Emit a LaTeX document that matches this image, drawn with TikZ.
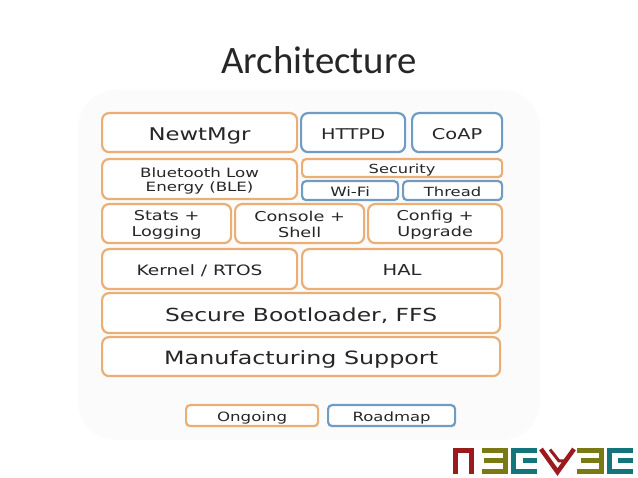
\documentclass[tikz,border=0pt]{standalone}
\usepackage{fontspec}
\setmainfont{DejaVu Sans}
\newfontfamily\wide[FakeStretch=1.3]{DejaVu Sans}
\newfontfamily\titlefont{Carlito}
\definecolor{orangeln}{HTML}{EBAE74}
\definecolor{blueln}{HTML}{6F9CC4}
\definecolor{txt}{HTML}{262626}
\definecolor{lred}{HTML}{9A1A1E}
\definecolor{lolive}{HTML}{7A7A14}
\definecolor{lteal}{HTML}{14747C}
\tikzset{
  box/.style={draw=orangeln,line width=2.2pt,rounded corners=7pt,fill=white,inner sep=0pt,anchor=north west,align=center,text=txt},
  bluebox/.style={box,draw=blueln},
  smallbox/.style={rounded corners=4pt},
  single/.style={text height=#1pt,text depth=0pt},
  logo/.style={line width=5pt,line cap=butt,line join=miter}
}
\newcommand{\wf}[1]{\wide\fontsize{#1}{#1}\selectfont}
\begin{document}
\begin{tikzpicture}[x=1pt,y=-1pt]
\useasboundingbox (0,0) rectangle (638,478);
\fill[white] (0,0) rectangle (638,478);
\fill[fill=black!1.5,rounded corners=38pt] (78,90) rectangle (540,440);
\node[font=\titlefont\fontsize{38.8}{42}\selectfont,text=txt] (title) at (319,60) {Architecture};
\node[box,single=15.5,minimum width=195pt,minimum height=39pt,font=\wf{17.5}] (newt) at (101,112) {NewtMgr};
\node[bluebox,single=13,minimum width=104pt,minimum height=39pt,font=\wf{14.8}] (httpd) at (300,112) {HTTPD};
\node[bluebox,single=13,minimum width=90pt,minimum height=39pt,font=\wf{14.9}] (coap) at (411,112) {CoAP};
\node[box,minimum width=195pt,minimum height=40pt,font=\wide\fontsize{12.8}{14.5}\selectfont] (ble) at (101,158) {\rule{0pt}{13.5pt}Bluetooth Low\\Energy (BLE)};
\node[box,smallbox,single=11,minimum width=200pt,minimum height=18pt,font=\wf{12.5}] (sec) at (301,158) {Security};
\node[bluebox,smallbox,single=11,minimum width=96pt,minimum height=19pt,font=\wf{12.8}] (wifi) at (301,180) {Wi-Fi};
\node[bluebox,smallbox,single=11,minimum width=99pt,minimum height=19pt,font=\wf{12.6}] (thread) at (402,180) {Thread};
\node[box,minimum width=129pt,minimum height=39pt,font=\wide\fontsize{13.6}{15.8}\selectfont] (stats) at (101,203) {\rule{0pt}{12.5pt}Stats +\\Logging};
\node[box,minimum width=129pt,minimum height=39pt,font=\wide\fontsize{13.6}{15.8}\selectfont] (console) at (234,203) {\rule{0pt}{12.5pt}Console +\\Shell};
\node[box,minimum width=134pt,minimum height=39pt,font=\wide\fontsize{13.6}{15.8}\selectfont] (config) at (367,203) {\rule{0pt}{12.5pt}Config +\\Upgrade};
\node[box,single=12.5,minimum width=195pt,minimum height=40pt,font=\wf{14.3}] (kernel) at (101,248) {Kernel / RTOS};
\node[box,single=13,minimum width=200pt,minimum height=40pt,font=\wf{15}] (hal) at (301,248) {HAL};
\node[box,single=16,minimum width=398pt,minimum height=40pt,font=\wf{18}] (boot) at (101,292) {Secure Bootloader, FFS};
\node[box,single=16,minimum width=398pt,minimum height=39pt,font=\wf{18.3}] (mfg) at (101,336) {Manufacturing Support};
\node[box,smallbox,single=11,minimum width=132pt,minimum height=21pt,font=\wf{12.8}] (ongoing) at (185,404) {Ongoing};
\node[bluebox,smallbox,single=11,minimum width=127pt,minimum height=21pt,font=\wf{12.7}] (roadmap) at (327,404) {Roadmap};
% logo
\draw[logo,lred] (455.5,474) -- (455.5,450.5) -- (471,450.5) -- (471,474);
\draw[logo,lolive] (482,450.5) -- (505.5,450.5) -- (505.5,471.5) -- (482,471.5) (484,461) -- (503,461);
\draw[logo,lteal] (537,450.5) -- (513.5,450.5) -- (513.5,471.5) -- (537,471.5) (523,461) -- (537,461);
\draw[line width=4.5pt,lred] (541,449) -- (557.5,472) -- (574,449);
\draw[line width=3pt,lred] (550,449.5) -- (559,461) -- (566,461);
\draw[logo,lolive] (577,450.5) -- (601.5,450.5) -- (601.5,471.5) -- (577,471.5) (581,461) -- (599,461);
\draw[logo,lteal] (633,450.5) -- (609.5,450.5) -- (609.5,471.5) -- (633,471.5) (618,461) -- (633,461);
\end{tikzpicture}
\end{document}
